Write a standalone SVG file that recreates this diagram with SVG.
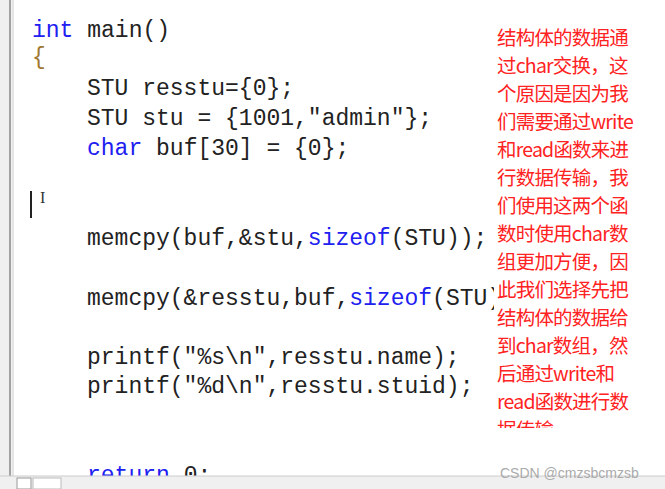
<svg xmlns="http://www.w3.org/2000/svg" width="665" height="489" viewBox="0 0 665 489">
<style>
.c{font-family:"Liberation Mono",monospace;font-size:23px;fill:#222}
.k{fill:#2020f0}
.r{font-family:"Noto Sans CJK SC",sans-serif;font-size:19.5px;fill:#f22;letter-spacing:-0.8px}
</style>
<defs><clipPath id="cl"><rect x="490" y="0" width="175" height="428"/></clipPath></defs>
<rect width="665" height="489" fill="#fff"/>
<rect x="0" y="0" width="12" height="476" fill="#f0f0f0"/>
<line x1="10" y1="0" x2="10" y2="476" stroke="#888" stroke-width="1.5"/>
<line x1="13" y1="0" x2="13" y2="476" stroke="#ccc"/>
<g id="code">
<text class="c" x="32" y="37"><tspan class="k">int</tspan> main()</text>
<text class="c" x="32" y="64" style="fill:#a07830">{</text>
<text class="c" x="87" y="95" xml:space="preserve">STU resstu={0};</text>
<text class="c" x="87" y="125" xml:space="preserve">STU stu = {1001,"admin"};</text>
<text class="c" x="87" y="155"><tspan class="k">char</tspan> buf[30] = {0};</text>
<text class="c" x="87" y="245">memcpy(buf,&amp;stu,<tspan class="k">sizeof</tspan>(STU));</text>
<text class="c" x="87" y="305">memcpy(&amp;resstu,buf,<tspan class="k">sizeof</tspan>(STU));</text>
<text class="c" x="87" y="364">printf("%s\n",resstu.name);</text>
<text class="c" x="87" y="393">printf("%d\n",resstu.stuid);</text>
<text class="c k" x="87" y="482">return <tspan style="fill:#222">0;</tspan></text>
</g>
<line x1="31" y1="191" x2="31" y2="218" stroke="#222" stroke-width="2"/>
<text x="40" y="203" font-family="Liberation Serif,serif" font-size="16" fill="#333">I</text>
<g id="note" clip-path="url(#cl)">
<rect x="494" y="20" width="160" height="410" fill="#fff"/>
<text class="r" x="497" y="45">结构体的数据通</text>
<text class="r" x="497" y="73">过char交换，这</text>
<text class="r" x="497" y="101">个原因是因为我</text>
<text class="r" x="497" y="129">们需要通过write</text>
<text class="r" x="497" y="157">和read函数来进</text>
<text class="r" x="497" y="185">行数据传输，我</text>
<text class="r" x="497" y="213">们使用这两个函</text>
<text class="r" x="497" y="241">数时使用char数</text>
<text class="r" x="497" y="269">组更加方便，因</text>
<text class="r" x="497" y="297">此我们选择先把</text>
<text class="r" x="497" y="325">结构体的数据给</text>
<text class="r" x="497" y="353">到char数组，然</text>
<text class="r" x="497" y="381">后通过write和</text>
<text class="r" x="497" y="409">read函数进行数</text>
<text class="r" x="497" y="437">据传输</text>
</g>
<rect x="0" y="476" width="665" height="13" fill="#f0f0f0"/>
<line x1="0" y1="476" x2="665" y2="476" stroke="#ccc"/>
<rect x="17" y="478" width="14" height="11" fill="#fff" stroke="#999"/>
<rect x="33" y="478" width="28" height="11" fill="#fff" stroke="#bbb"/>
<text x="500" y="478" font-family="Liberation Sans,sans-serif" font-size="14" fill="#aaa">CSDN @cmzsbcmzsb</text>
</svg>
